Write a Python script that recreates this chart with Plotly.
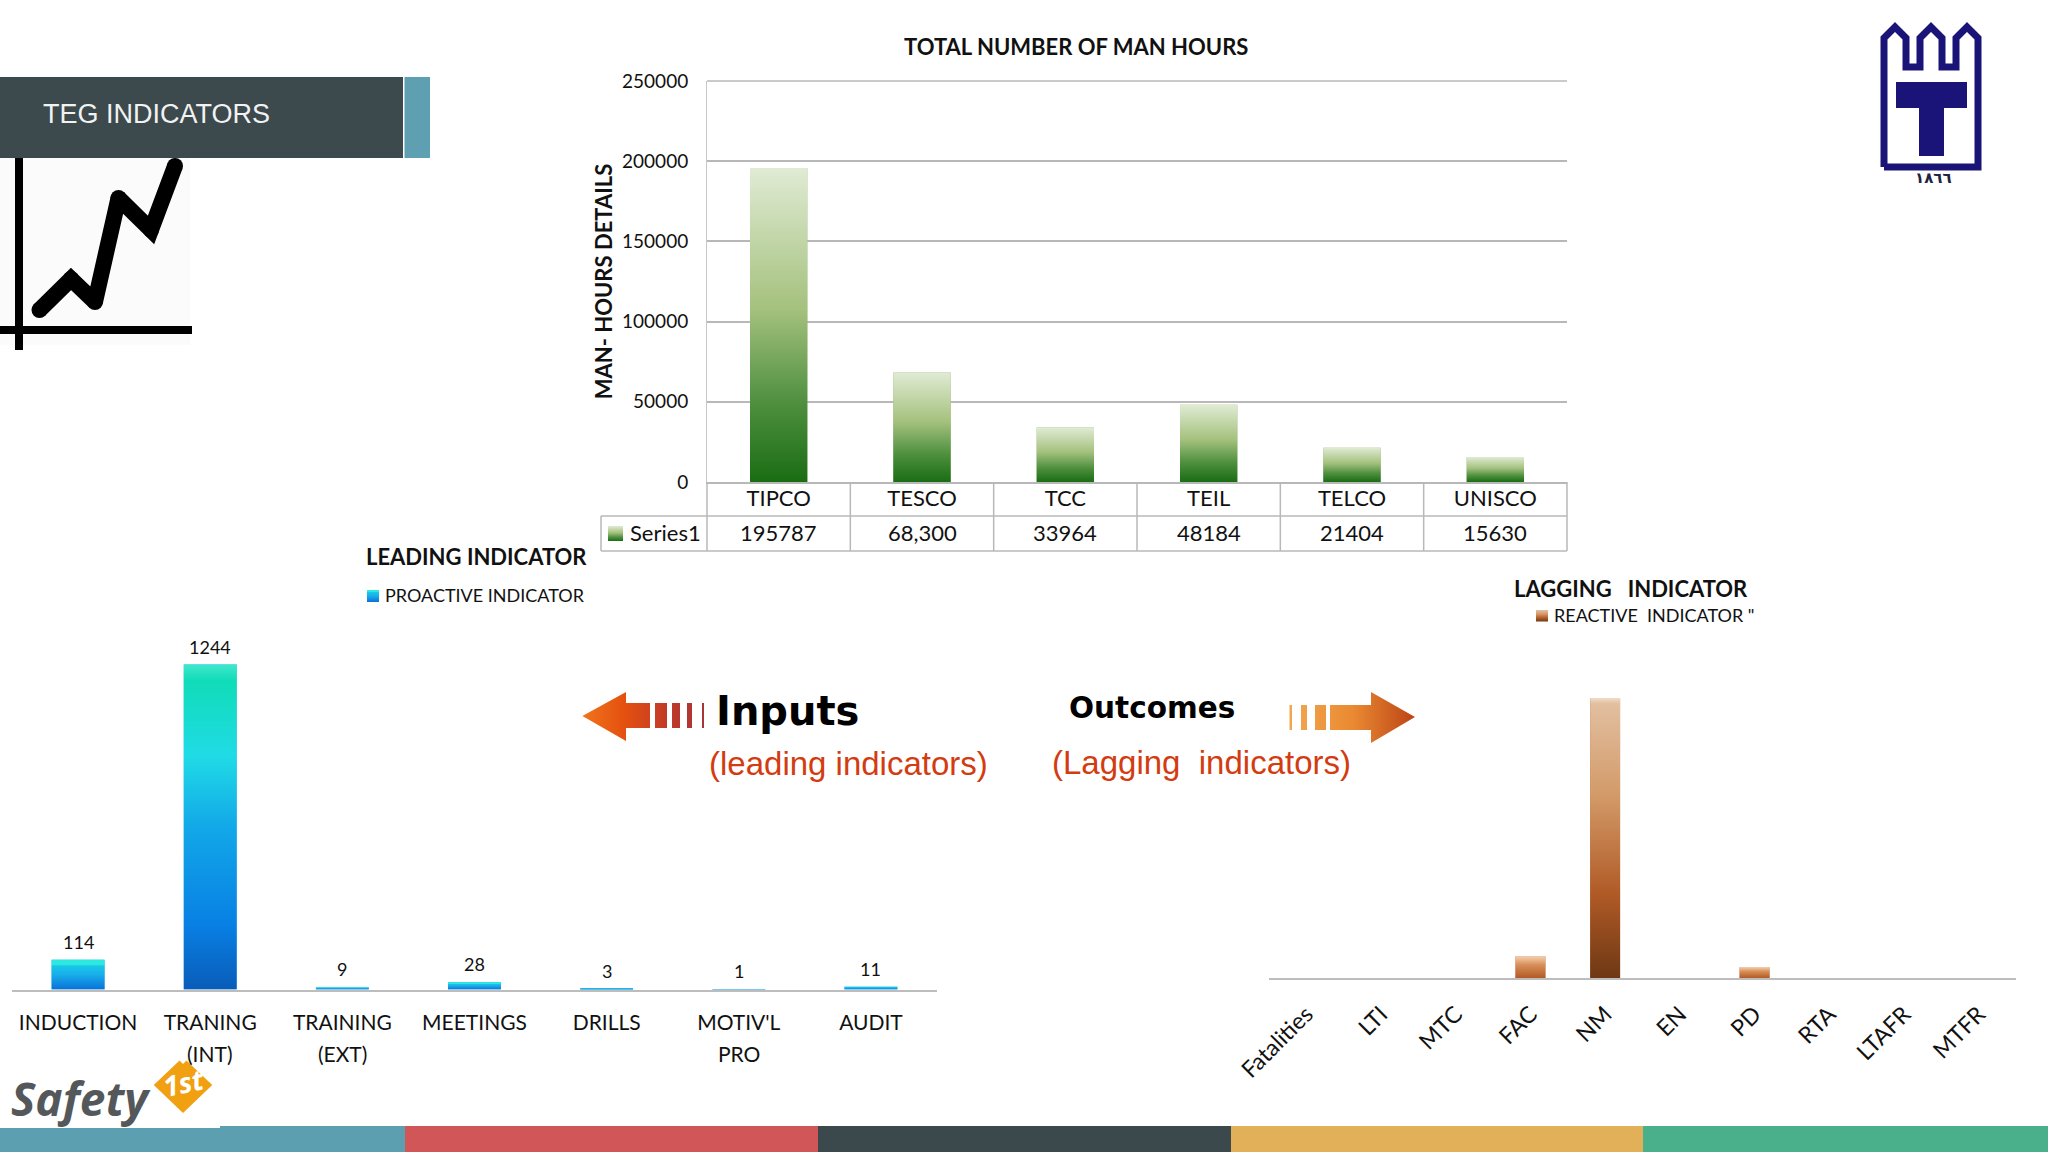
import plotly.graph_objects as go

# data
hours_names = ['TIPCO', 'TESCO', 'TCC', 'TEIL', 'TELCO', 'UNISCO']
hours_values = [195787, 68300, 33964, 48184, 21404, 15630]
hours_labels = ['195787', '68,300', '33964', '48184', '21404', '15630']
hours_ticks = [0, 50000, 100000, 150000, 200000, 250000]

leading_names = ['INDUCTION', 'TRANING', 'TRAINING', 'MEETINGS', 'DRILLS', "MOTIV'L", 'AUDIT']
leading_second_line = ['', '(INT)', '(EXT)', '', '', 'PRO', '']
leading_values = [114, 1244, 9, 28, 3, 1, 11]

lagging_names = ['Fatalities', 'LTI', 'MTC', 'FAC', 'NM', 'EN', 'PD', 'RTA', 'LTAFR', 'MTFR']
lagging_values = [0, 0, 0, 4, 51, 0, 2, 0, 0, 0]

# gradients (bottom -> top)
GREEN = [[0, '#1a6d14'], [0.25, '#4e8f3e'], [0.55, '#a4c17d'], [1, '#e0ebd4']]
BLUE_TALL = [[0, '#0a5cb8'], [0.2, '#0880e4'], [0.5, '#12a8e8'], [0.72, '#20dbe6'], [0.95, '#10dcb8'], [1, '#40e8cc']]
BLUE_SMALL = [[0, '#0a70d8'], [0.5, '#18aeea'], [0.8, '#18c8e8'], [0.82, '#2ce8e0'], [1, '#2ce8e0']]
BROWN_TALL = [[0, '#6e3814'], [0.3, '#b05a26'], [0.65, '#d29a68'], [0.98, '#e2bfa0'], [1, '#f0dcc8']]
BROWN_SMALL = [[0, '#b25a25'], [0.6, '#d88f58'], [0.85, '#eab98f'], [1, '#f0d0b4']]

FONT = 'Lato'
W, H = 2048, 1152


def px_x(a, b):
    return [a / W, b / W]


def px_y(top, bottom):
    return [1 - bottom / H, 1 - top / H]


fig = go.Figure()


def add_bars(values, xaxis, yaxis, scales, color, bar_w=0.4):
    xs = list(range(len(values)))
    fig.add_trace(go.Bar(x=xs, y=values, width=bar_w, marker=dict(color=color, line=dict(width=0)),
                         xaxis=xaxis, yaxis=yaxis, showlegend=False))
    # plotly bars have no gradient fill, so a filled outline sits on top of each bar
    for x, v, scale in zip(xs, values, scales):
        if v == 0:
            continue
        fig.add_trace(go.Scatter(x=[x - bar_w / 2, x - bar_w / 2, x + bar_w / 2, x + bar_w / 2, x - bar_w / 2],
                                 y=[0, v, v, 0, 0], mode='lines', line=dict(width=0), fill='toself',
                                 fillgradient=dict(type='vertical', colorscale=scale),
                                 xaxis=xaxis, yaxis=yaxis, hoverinfo='skip', showlegend=False))


add_bars(hours_values, 'x', 'y', [GREEN] * 6, '#8fb070')
add_bars(leading_values, 'x2', 'y2', [BLUE_SMALL, BLUE_TALL] + [BLUE_SMALL] * 5, '#12a8e8')
add_bars(lagging_values, 'x3', 'y3', [BROWN_SMALL] * 4 + [BROWN_TALL] + [BROWN_SMALL] * 5, '#b86a30')

# value labels on the leading bars
for i, v in enumerate(leading_values):
    fig.add_annotation(x=i, y=v, xref='x2', yref='y2', text=str(v), showarrow=False, yanchor='bottom',
                       yshift=5, font=dict(family=FONT, size=18, color='#111111'))


# everything that is not a chart is drawn in a full page pixel layer
def gradient_poly(xs, ys, scale, kind='vertical'):
    fig.add_trace(go.Scatter(x=xs, y=ys, mode='lines', line=dict(width=0), fill='toself',
                             fillgradient=dict(type=kind, colorscale=scale),
                             xaxis='x4', yaxis='y4', hoverinfo='skip', showlegend=False))


def rect(x0, y0, x1, y1, color, line=None, width=0):
    fig.add_shape(type='rect', x0=x0, y0=y0, x1=x1, y1=y1, xref='x4', yref='y4',
                  fillcolor=color, line=dict(color=line, width=width), layer='below')


def seg(x0, y0, x1, y1, color='#b8b8b8', width=1.5):
    fig.add_shape(type='line', x0=x0, y0=y0, x1=x1, y1=y1, xref='x4', yref='y4',
                  line=dict(color=color, width=width), layer='below')


def label(x, y, text, size, color='#111111', family=FONT, bold=False, anchor='center', angle=0, italic=False):
    fig.add_annotation(x=x, y=y, xref='x4', yref='y4', text=text, showarrow=False, xanchor=anchor,
                       yanchor='middle', textangle=angle,
                       font=dict(family=family, size=size, color=color,
                                 weight='bold' if bold else 'normal', style='italic' if italic else 'normal'))


# footer stripes
for x0, x1, c in [(0, 405, '#5b9fb0'), (405, 818, '#d05657'), (818, 1231, '#3b484c'),
                  (1231, 1643, '#e3b05a'), (1643, 2048, '#4aaf8b')]:
    rect(x0, 1126, x1, 1152, c)
rect(0, 1126, 220, 1128, '#ffffff')

# header
rect(0, 77, 403, 158, '#3c494d')
rect(404.5, 77, 430, 158, '#5ea0b1')
label(41, 114, 'TEG INDICATORS', 27, '#f2f2f2', 'Liberation Sans', anchor='left')

# trend icon
rect(0, 158, 190, 345, '#fbfbfb')
seg(19, 158, 19, 350, '#000000', 8)
seg(0, 330, 192, 330, '#000000', 8)
fig.add_trace(go.Scatter(x=[39.5, 71, 95, 118.5, 151, 175], y=[310, 279, 302, 198, 230, 166],
                         mode='lines+markers', line=dict(color='#000000', width=16),
                         marker=dict(color='#000000', size=16), xaxis='x4', yaxis='y4',
                         hoverinfo='skip', showlegend=False))

# table under the man hours chart
x_left, col = 707, (1567 - 707) / 6
seg(707, 81, 1567, 81)
seg(707, 516, 1567, 516)
seg(601, 516, 601, 551)
seg(601, 516, 707, 516)
seg(601, 551, 1567, 551)
for k in range(7):
    seg(x_left + k * col, 482, x_left + k * col, 551)
gradient_poly([608, 623, 623, 608, 608], [541, 541, 526, 526, 541], GREEN)
label(628, 532, 'Series1', 22, anchor='left')
for i, t in enumerate(hours_labels):
    label(x_left + (i + 0.5) * col, 532, t, 22)

# titles and legends
label(1076, 46, 'TOTAL NUMBER OF MAN HOURS', 22, bold=True)
label(364, 556, 'LEADING INDICATOR', 22, bold=True, anchor='left')
gradient_poly([367, 379, 379, 367, 367], [602, 602, 590, 590, 602], BLUE_SMALL)
label(382.5, 595, 'PROACTIVE INDICATOR', 18, anchor='left')
label(1512, 588, 'LAGGING\u00a0\u00a0\u00a0INDICATOR', 22, bold=True, anchor='left')
gradient_poly([1536, 1548, 1548, 1536, 1536], [621.5, 621.5, 610, 610, 621.5], BROWN_TALL)
label(1552, 615, 'REACTIVE\u00a0\u00a0INDICATOR "', 18, anchor='left')

# inputs / outcomes arrows
label(714, 711, 'Inputs', 40, '#000000', 'DejaVu Sans', bold=True, anchor='left')
label(1067, 708, 'Outcomes', 29.5, '#000000', 'DejaVu Sans', bold=True, anchor='left')
label(707, 763, '(leading indicators)', 33, '#d33c10', 'Liberation Sans', anchor='left')
label(1050, 762, '(Lagging\u00a0\u00a0indicators)', 33, '#d33c10', 'Liberation Sans', anchor='left')

left_x = [582.4, 626, 626, 650, 650, 626, 626, 582.4, None,
          655, 667, 667, 655, 655, None, 672, 680, 680, 672, 672, None,
          687, 692, 692, 687, 687, None, 702, 704, 704, 702, 702]
left_y = [716, 692, 703, 703, 728, 728, 741, 716, None,
          703, 703, 728, 728, 703, None, 703, 703, 728, 728, 703, None,
          703, 703, 728, 728, 703, None, 703, 703, 728, 728, 703]
gradient_poly(left_x, left_y, [[0, '#f0741c'], [0.35, '#e4500f'], [0.7, '#c03a28'], [1, '#a83438']], 'horizontal')

right_x = [1289.5, 1292, 1292, 1289.5, 1289.5, None, 1301, 1307, 1307, 1301, 1301, None,
           1315, 1326, 1326, 1315, 1315, None, 1330, 1371, 1371, 1415, 1371, 1371, 1330, 1330]
right_y = [705, 705, 730, 730, 705, None, 705, 705, 730, 730, 705, None,
           705, 705, 730, 730, 705, None, 705, 705, 692, 717, 743, 730, 730, 705]
gradient_poly(right_x, right_y, [[0, '#f2a850'], [0.5, '#ea8a32'], [1, '#bc4416']], 'horizontal')

# company logo (top right)
NAVY = '#1a1478'
fig.add_trace(go.Scatter(x=[1884, 1884, 1895, 1906, 1906, 1920, 1920, 1931, 1942, 1942, 1956, 1956, 1967, 1978, 1978, 1884],
                         y=[167, 38, 27, 38, 67, 67, 38, 27, 38, 67, 67, 38, 27, 38, 167, 167],
                         mode='lines', line=dict(color=NAVY, width=7), xaxis='x4', yaxis='y4',
                         hoverinfo='skip', showlegend=False))
rect(1896, 82, 1967, 108, NAVY)
rect(1919, 108, 1944, 156, NAVY)
label(1933, 178, '\u0661\u0668\u0666\u0666', 15, '#222244', 'DejaVu Sans', bold=True)

# safety 1st logo
fig.add_trace(go.Scatter(x=[183, 205, 183, 161, 183], y=[1064, 1085, 1106, 1085, 1064], mode='lines',
                         line=dict(color='#f0a010', width=10), fill='toself', fillcolor='#f0a010',
                         xaxis='x4', yaxis='y4', hoverinfo='skip', showlegend=False))
label(81, 1098, 'Safety', 46, '#55585a', 'Open Sans', bold=True, italic=True)
label(184, 1082, '1st', 28, '#ffffff', 'Open Sans', bold=True, italic=True, angle=-12)

# second lines of the leading categories
for i, t in enumerate(leading_second_line):
    if t:
        fig.add_annotation(x=i, y=1053, xref='x2', yref='y4', text=t, showarrow=False,
                           font=dict(family=FONT, size=21, color='#111111'))

fig.update_layout(
    width=W, height=H, margin=dict(l=0, r=0, t=0, b=0, autoexpand=False), paper_bgcolor='white',
    plot_bgcolor='rgba(0,0,0,0)',
    bargap=0.6,
    font=dict(family=FONT, color='#111111'),
    # man hours
    xaxis=dict(domain=px_x(707, 1567), range=[-0.5, 5.5], tickvals=list(range(6)), ticktext=hours_names,
               showgrid=False, zeroline=False, showline=True, linecolor='#b8b8b8', linewidth=1.5,
               ticks='', ticklabelstandoff=-4, tickfont=dict(size=22), anchor='y'),
    yaxis=dict(domain=px_y(81, 482), range=[0, 250000], tickvals=hours_ticks, showgrid=True, gridcolor='#b8b8b8',
               gridwidth=1.5, zeroline=False, showline=True, linecolor='#c8c8c8', linewidth=1, ticks='',
               ticklabelstandoff=14, tickfont=dict(size=19), tickformat='d', anchor='x',
               title=dict(text='<b>MAN- HOURS DETAILS</b>', font=dict(size=22), standoff=3)),
    # leading
    xaxis2=dict(domain=px_x(12, 937), range=[-0.5, 6.5], tickvals=list(range(7)), ticktext=leading_names,
                showgrid=False, zeroline=False, showline=True, linecolor='#bdbdbd', linewidth=1.5,
                ticks='', ticklabelstandoff=14, tickfont=dict(size=21), anchor='y2'),
    yaxis2=dict(domain=px_y(639, 989.5), range=[0, 1342], visible=False, anchor='x2'),
    # lagging
    xaxis3=dict(domain=px_x(1269, 2016), range=[-0.5, 9.5], tickvals=list(range(10)), ticktext=lagging_names,
                showgrid=False, zeroline=False, showline=True, linecolor='#bdbdbd', linewidth=1.5,
                ticks='', tickangle=-45, ticklabelstandoff=12, tickfont=dict(size=23), anchor='y3'),
    yaxis3=dict(domain=px_y(680, 978), range=[0, 54.3], visible=False, anchor='x3'),
    # page layer
    xaxis4=dict(domain=[0, 1], range=[0, W], visible=False, anchor='y4', fixedrange=True),
    yaxis4=dict(domain=[0, 1], range=[H, 0], visible=False, anchor='x4', fixedrange=True),
)

fig.write_html('out.html', post_script="document.body.style.margin='0';", config=dict(displayModeBar=False))
